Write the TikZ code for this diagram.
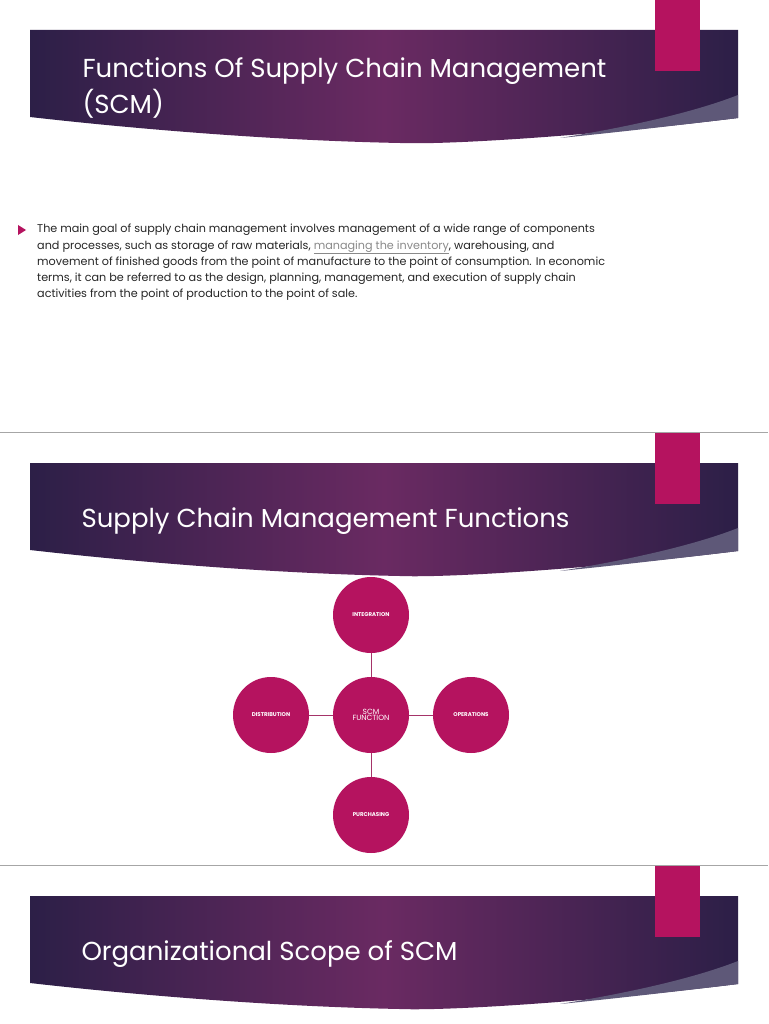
\documentclass[tikz,border=0pt]{standalone}
\usepackage{fontspec}
\setmainfont{Poppins}
\newfontfamily\bodyf{Poppins}
\begin{document}
\begin{tikzpicture}[x=1pt,y=-1pt,
  banner/.style={left color=bandark,right color=bandark,middle color=banmid},
  tab/.style={fill=scmpink},
  sep/.style={draw=gray!70,line width=0.6pt},
  title/.style={anchor=base west,text=white,font=\fontsize{26}{30}\selectfont\bodyf},
  bodyline/.style={anchor=base west,font=\fontsize{11.2}{14}\selectfont\bodyf,text=black!85,inner sep=0pt},
  circ/.style={circle,fill=scmpink,minimum size=76pt,inner sep=0pt,text=white,font=\fontsize{5.5}{7}\selectfont\bodyf\bfseries,align=center},
  conn/.style={draw=scmpink!70!gray,line width=0.7pt}]
\definecolor{bandark}{HTML}{2C1F47}
\definecolor{banmid}{HTML}{6A2A62}
\definecolor{scmpink}{HTML}{B5135F}
\definecolor{lightband}{HTML}{5E5878}
\definecolor{linkgray}{HTML}{8A8A8A}
\useasboundingbox (0,0) rectangle (768,1024);
\fill[white] (0,0) rectangle (768,1024);
% slide 1
\path[banner] (30,30) -- (738,30) -- (738,118) .. controls (600,135) and (450,145) .. (400,143) .. controls (250,140) and (100,125) .. (30,117) -- cycle;
\fill[lightband] (738,95) -- (738,118) .. controls (680,125) and (620,132) .. (560,138) .. controls (640,125) and (700,110) .. (738,95) -- cycle;
\fill[tab] (655,0) rectangle (700,71);
\node[title] (t1) at (79,78) {Functions Of Supply Chain Management};
\node[title] (t1b) at (79,114) {(SCM)};
\fill[scmpink] (18,225) -- (18,235) -- (26,230) -- cycle;
\node[bodyline] (l1) at (37,233) {The main goal of supply chain management involves management of a wide range of components};
\node[bodyline] (l2) at (37,249) {and processes, such as storage of raw materials, \textcolor{linkgray}{\underline{managing the inventory}}, warehousing, and};
\node[bodyline] (l3) at (37,265) {movement of finished goods from the point of manufacture to the point of consumption. In economic};
\node[bodyline] (l4) at (37,281) {terms, it can be referred to as the design, planning, management, and execution of supply chain};
\node[bodyline] (l5) at (37,297) {activities from the point of production to the point of sale.};
\draw[sep] (0,432) -- (768,432);
% slide 2
\path[banner] (30,463) -- (738,463) -- (738,551) .. controls (600,568) and (450,578) .. (400,576) .. controls (250,573) and (100,558) .. (30,550) -- cycle;
\fill[lightband] (738,528) -- (738,551) .. controls (680,558) and (620,565) .. (560,571) .. controls (640,558) and (700,543) .. (738,528) -- cycle;
\fill[tab] (655,433) rectangle (700,504);
\node[title] (t2) at (78,527) {Supply Chain Management Functions};
\node[circ] (scm) at (371,715) {\fontsize{7.5}{9}\selectfont\mdseries SCM\\[-1pt]\fontsize{7.5}{9}\selectfont\mdseries FUNCTION};
\node[circ] (int) at (371,615) {INTEGRATION};
\node[circ] (dis) at (271,715) {DISTRIBUTION};
\node[circ] (ope) at (471,715) {OPERATIONS};
\node[circ] (pur) at (371,815) {PURCHASING};
\draw[conn] (scm) -- (int);
\draw[conn] (scm) -- (dis);
\draw[conn] (scm) -- (ope);
\draw[conn] (scm) -- (pur);
\draw[sep] (0,865) -- (768,865);
% slide 3
\path[banner] (30,896) -- (738,896) -- (738,984) .. controls (600,1001) and (450,1011) .. (400,1009) .. controls (250,1006) and (100,991) .. (30,983) -- cycle;
\fill[lightband] (738,961) -- (738,984) .. controls (680,991) and (620,998) .. (560,1004) .. controls (640,991) and (700,976) .. (738,961) -- cycle;
\fill[tab] (655,866) rectangle (700,937);
\node[title] (t3) at (78,960) {Organizational Scope of SCM};
\end{tikzpicture}
\end{document}
